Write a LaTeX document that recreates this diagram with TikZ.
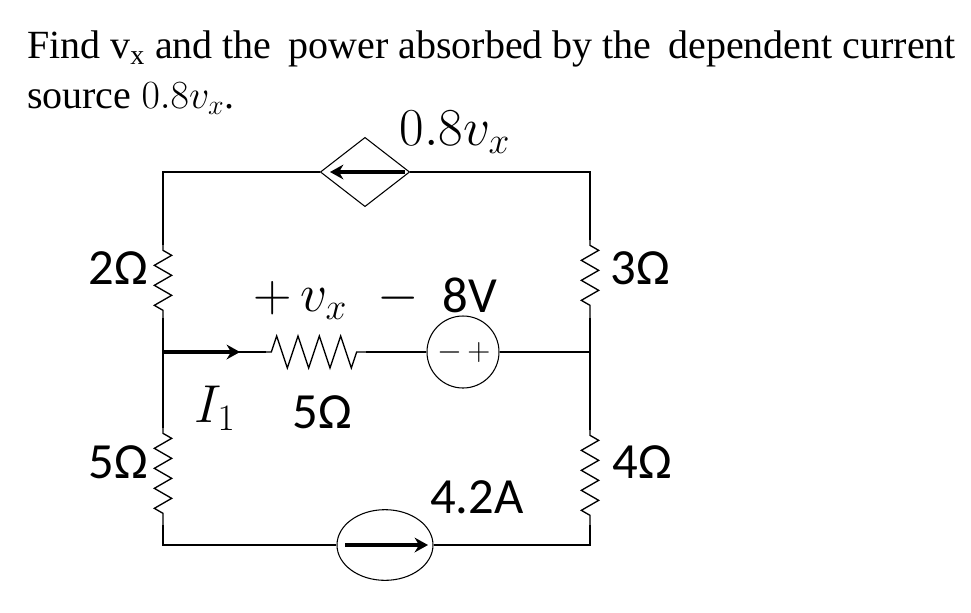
\RequirePackage{fix-cm}
\documentclass[tikz,border=0pt]{standalone}
\usepackage{fontspec}
\setmainfont{Liberation Serif}
\newfontfamily\lbl{Carlito}
\usetikzlibrary{shapes.geometric,decorations.pathmorphing,arrows.meta}
\tikzset{
  res/.style={decorate,decoration={zigzag,segment length=15pt,amplitude=6.5pt,pre length=4pt,post length=4pt}},
  resh/.style={decorate,decoration={zigzag,segment length=16pt,amplitude=12pt,pre length=4pt,post length=6pt}},
  lab/.style={font=\lbl\fontsize{38}{38}\selectfont},
  src/.style={draw,thick,fill=white},
  cur/.style={line width=2.5pt,-{Stealth[length=10pt,width=11pt]}}
}
\begin{document}
\begin{tikzpicture}[x=0.75pt,y=-0.75pt,line width=1pt]
\useasboundingbox (0,0) rectangle (971,612);

% problem text
\node[anchor=base west,font=\fontsize{30}{30}\selectfont] (t1) at (22,58) {Find v\textsubscript{x} and the\, power absorbed by the\, dependent current};
\node[anchor=base west,font=\fontsize{30}{30}\selectfont] (t2) at (22,108) {source $0.8v_x$.};

% corners and junctions
\coordinate (tl) at (163,172);
\coordinate (tr) at (590,172);
\coordinate (ml) at (163,352);
\coordinate (mr) at (590,352);
\coordinate (bl) at (163,545);
\coordinate (br) at (590,545);

% sources
\node[src,diamond,minimum width=67pt,minimum height=52pt,inner sep=0] (dep) at (365,172) {};
\node[src,ellipse,minimum width=72pt,minimum height=53pt,inner sep=0] (cs) at (385,545) {};
\node[src,circle,minimum size=54pt,inner sep=0] (vs) at (463,352) {};

% resistor ends
\coordinate (r2a) at (163,245); \coordinate (r2b) at (163,318);
\coordinate (r5a) at (163,428); \coordinate (r5b) at (163,525);
\coordinate (r3a) at (590,240); \coordinate (r3b) at (590,318);
\coordinate (r4a) at (590,430); \coordinate (r4b) at (590,525);
\coordinate (rha) at (266,352); \coordinate (rhb) at (366,352);

% wires
\draw (dep) -- (tl) -- (r2a);
\draw (dep) -- (tr) -- (r3a);
\draw (r2b) -- (ml) -- (r5a);
\draw (r5b) -- (bl) -- (cs) -- (br) -- (r4b);
\draw (r3b) -- (mr) -- (r4a);
\draw (ml) -- (rha);
\draw (rhb) -- (vs) -- (mr);

% resistors
\draw[res] (r2a) -- (r2b);
\draw[res] (r5a) -- (r5b);
\draw[res] (r3a) -- (r3b);
\draw[res] (r4a) -- (r4b);
\draw[resh] (rha) -- (rhb);

% arrows
\draw[cur] (405,172) -- (330,172);
\draw[cur] (345,545) -- (428,545);
\draw[cur] (ml) -- (240,352);
\node[font=\fontsize{24}{24}\selectfont] (vm) at ([xshift=-10pt]vs.center) {$-$};
\node[font=\fontsize{24}{24}\selectfont] (vp) at ([xshift=12pt]vs.center) {$+$};

% labels
\node[lab] (l2) at (118,268) {2Ω};
\node[lab] (l5) at (118,462) {5Ω};
\node[lab] (l3) at (640,268) {3Ω};
\node[lab] (l4) at (642,462) {4Ω};
\node[lab] (l5h) at (322,412) {5Ω};
\node[lab] (l8) at (470,295) {8V};
\node[lab] (l42) at (477,497) {4.2A};
\node[font=\fontsize{40}{40}\selectfont] (ldep) at (455,132) {$0.8v_x$};
\node[font=\fontsize{40}{40}\selectfont] (lvx) at (300,300) {$+\,v_x$};
\node[font=\fontsize{40}{40}\selectfont] (lmn) at (398,298) {$-$};
\node[font=\fontsize{40}{40}\selectfont] (li1) at (215,408) {$I_1$};
\end{tikzpicture}
\end{document}
